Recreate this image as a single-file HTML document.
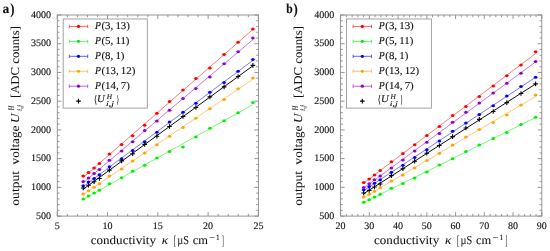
<!DOCTYPE html>
<html><head><meta charset="utf-8"><title>Output voltage vs conductivity</title>
<style>
html,body{margin:0;padding:0;background:#fff;}
body{width:550px;height:251px;overflow:hidden;}
svg{display:block;}
text{font-family:"Liberation Serif", "DejaVu Serif", serif;fill:#111;stroke:#111;stroke-width:0.12px;text-rendering:geometricPrecision;}
.tl{font-size:10px;}
.al{stroke-width:0.05px;}
</style></head>
<body>
<svg width="550" height="251" viewBox="0 0 550 251">
<rect width="550" height="251" fill="#fff"/>
<rect x="57.3" y="15" width="201.1" height="201.1" fill="none" stroke="#8a8a8a" stroke-width="0.9"/>
<text x="57.3" y="228.6" text-anchor="middle" class="tl">5</text>
<text x="107.57" y="228.6" text-anchor="middle" class="tl">10</text>
<text x="157.85" y="228.6" text-anchor="middle" class="tl">15</text>
<text x="208.12" y="228.6" text-anchor="middle" class="tl">20</text>
<text x="258.4" y="228.6" text-anchor="middle" class="tl">25</text>
<text x="51" y="218.8" text-anchor="end" class="tl">500</text>
<text x="51" y="190.07" text-anchor="end" class="tl">1000</text>
<text x="51" y="161.34" text-anchor="end" class="tl">1500</text>
<text x="51" y="132.61" text-anchor="end" class="tl">2000</text>
<text x="51" y="103.89" text-anchor="end" class="tl">2500</text>
<text x="51" y="75.16" text-anchor="end" class="tl">3000</text>
<text x="51" y="46.43" text-anchor="end" class="tl">3500</text>
<text x="51" y="17.7" text-anchor="end" class="tl">4000</text>
<path d="M57.3 216.1v-4.0M57.3 15v4.0M67.35 216.1v-2.2M67.35 15v2.2M77.41 216.1v-2.2M77.41 15v2.2M87.47 216.1v-2.2M87.47 15v2.2M97.52 216.1v-2.2M97.52 15v2.2M107.57 216.1v-4.0M107.57 15v4.0M117.63 216.1v-2.2M117.63 15v2.2M127.68 216.1v-2.2M127.68 15v2.2M137.74 216.1v-2.2M137.74 15v2.2M147.79 216.1v-2.2M147.79 15v2.2M157.85 216.1v-4.0M157.85 15v4.0M167.9 216.1v-2.2M167.9 15v2.2M177.96 216.1v-2.2M177.96 15v2.2M188.01 216.1v-2.2M188.01 15v2.2M198.07 216.1v-2.2M198.07 15v2.2M208.12 216.1v-4.0M208.12 15v4.0M218.18 216.1v-2.2M218.18 15v2.2M228.23 216.1v-2.2M228.23 15v2.2M238.29 216.1v-2.2M238.29 15v2.2M248.34 216.1v-2.2M248.34 15v2.2M258.4 216.1v-4.0M258.4 15v4.0M57.3 216.1h4.0M258.4 216.1h-4.0M57.3 210.35h2.2M258.4 210.35h-2.2M57.3 204.61h2.2M258.4 204.61h-2.2M57.3 198.86h2.2M258.4 198.86h-2.2M57.3 193.12h2.2M258.4 193.12h-2.2M57.3 187.37h4.0M258.4 187.37h-4.0M57.3 181.63h2.2M258.4 181.63h-2.2M57.3 175.88h2.2M258.4 175.88h-2.2M57.3 170.13h2.2M258.4 170.13h-2.2M57.3 164.39h2.2M258.4 164.39h-2.2M57.3 158.64h4.0M258.4 158.64h-4.0M57.3 152.9h2.2M258.4 152.9h-2.2M57.3 147.15h2.2M258.4 147.15h-2.2M57.3 141.41h2.2M258.4 141.41h-2.2M57.3 135.66h2.2M258.4 135.66h-2.2M57.3 129.91h4.0M258.4 129.91h-4.0M57.3 124.17h2.2M258.4 124.17h-2.2M57.3 118.42h2.2M258.4 118.42h-2.2M57.3 112.68h2.2M258.4 112.68h-2.2M57.3 106.93h2.2M258.4 106.93h-2.2M57.3 101.19h4.0M258.4 101.19h-4.0M57.3 95.44h2.2M258.4 95.44h-2.2M57.3 89.69h2.2M258.4 89.69h-2.2M57.3 83.95h2.2M258.4 83.95h-2.2M57.3 78.2h2.2M258.4 78.2h-2.2M57.3 72.46h4.0M258.4 72.46h-4.0M57.3 66.71h2.2M258.4 66.71h-2.2M57.3 60.97h2.2M258.4 60.97h-2.2M57.3 55.22h2.2M258.4 55.22h-2.2M57.3 49.47h2.2M258.4 49.47h-2.2M57.3 43.73h4.0M258.4 43.73h-4.0M57.3 37.98h2.2M258.4 37.98h-2.2M57.3 32.24h2.2M258.4 32.24h-2.2M57.3 26.49h2.2M258.4 26.49h-2.2M57.3 20.75h2.2M258.4 20.75h-2.2M57.3 15h4.0M258.4 15h-4.0" stroke="#8a8a8a" stroke-width="0.9" fill="none"/>
<path d="M83.2 199.29L252.9 104.6" stroke="#20ee20" stroke-width="0.6" fill="none"/>
<path d="M80.2 199.1h6M85.5 196.1h6M91.1 193.1h6M96.4 190.2h6M106.4 183.7h6M118.6 177.7h6M129.7 171.3h6M141.7 165.3h6M153.9 158h6M166.5 151.5h6M180 147h6M192.9 136.9h6M206.9 128.3h6M221.1 120.8h6M235.1 112.7h6M249.9 102.6h6" stroke="#20ee20" stroke-width="0.5" stroke-opacity="0.35" fill="none"/>
<ellipse cx="83.2" cy="199.1" rx="1.75" ry="1.5" fill="#00f000"/>
<ellipse cx="88.5" cy="196.1" rx="1.75" ry="1.5" fill="#00f000"/>
<ellipse cx="94.1" cy="193.1" rx="1.75" ry="1.5" fill="#00f000"/>
<ellipse cx="99.4" cy="190.2" rx="1.75" ry="1.5" fill="#00f000"/>
<ellipse cx="109.4" cy="183.7" rx="1.75" ry="1.5" fill="#00f000"/>
<ellipse cx="121.6" cy="177.7" rx="1.75" ry="1.5" fill="#00f000"/>
<ellipse cx="132.7" cy="171.3" rx="1.75" ry="1.5" fill="#00f000"/>
<ellipse cx="144.7" cy="165.3" rx="1.75" ry="1.5" fill="#00f000"/>
<ellipse cx="156.9" cy="158" rx="1.75" ry="1.5" fill="#00f000"/>
<ellipse cx="169.5" cy="151.5" rx="1.75" ry="1.5" fill="#00f000"/>
<ellipse cx="183" cy="147" rx="1.75" ry="1.5" fill="#00f000"/>
<ellipse cx="195.9" cy="136.9" rx="1.75" ry="1.5" fill="#00f000"/>
<ellipse cx="209.9" cy="128.3" rx="1.75" ry="1.5" fill="#00f000"/>
<ellipse cx="224.1" cy="120.8" rx="1.75" ry="1.5" fill="#00f000"/>
<ellipse cx="238.1" cy="112.7" rx="1.75" ry="1.5" fill="#00f000"/>
<ellipse cx="252.9" cy="102.6" rx="1.75" ry="1.5" fill="#00f000"/>
<path d="M83.2 194.61L252.9 79.23" stroke="#ffa520" stroke-width="0.6" fill="none"/>
<path d="M80.2 193.9h6M85.5 190.7h6M91.1 187.2h6M96.4 183.8h6M106.4 176h6M118.6 169.1h6M129.7 161.1h6M141.7 153h6M153.9 144.7h6M166.5 136.3h6M180 127.5h6M192.9 118.2h6M206.9 108.7h6M221.1 99.4h6M235.1 88.7h6M249.9 78.1h6" stroke="#ffa520" stroke-width="0.5" stroke-opacity="0.35" fill="none"/>
<ellipse cx="83.2" cy="193.9" rx="1.75" ry="1.5" fill="#ffa500"/>
<ellipse cx="88.5" cy="190.7" rx="1.75" ry="1.5" fill="#ffa500"/>
<ellipse cx="94.1" cy="187.2" rx="1.75" ry="1.5" fill="#ffa500"/>
<ellipse cx="99.4" cy="183.8" rx="1.75" ry="1.5" fill="#ffa500"/>
<ellipse cx="109.4" cy="176" rx="1.75" ry="1.5" fill="#ffa500"/>
<ellipse cx="121.6" cy="169.1" rx="1.75" ry="1.5" fill="#ffa500"/>
<ellipse cx="132.7" cy="161.1" rx="1.75" ry="1.5" fill="#ffa500"/>
<ellipse cx="144.7" cy="153" rx="1.75" ry="1.5" fill="#ffa500"/>
<ellipse cx="156.9" cy="144.7" rx="1.75" ry="1.5" fill="#ffa500"/>
<ellipse cx="169.5" cy="136.3" rx="1.75" ry="1.5" fill="#ffa500"/>
<ellipse cx="183" cy="127.5" rx="1.75" ry="1.5" fill="#ffa500"/>
<ellipse cx="195.9" cy="118.2" rx="1.75" ry="1.5" fill="#ffa500"/>
<ellipse cx="209.9" cy="108.7" rx="1.75" ry="1.5" fill="#ffa500"/>
<ellipse cx="224.1" cy="99.4" rx="1.75" ry="1.5" fill="#ffa500"/>
<ellipse cx="238.1" cy="88.7" rx="1.75" ry="1.5" fill="#ffa500"/>
<ellipse cx="252.9" cy="78.1" rx="1.75" ry="1.5" fill="#ffa500"/>
<path d="M83.2 186.62L252.9 60.38" stroke="#2020ff" stroke-width="0.6" fill="none"/>
<path d="M80.2 185.8h6M85.5 182h6M91.1 178.6h6M96.4 174.7h6M106.4 166.7h6M118.6 158.8h6M129.7 150.4h6M141.7 141.7h6M153.9 132.2h6M166.5 122h6M180 112.2h6M192.9 103.2h6M206.9 92.2h6M221.1 82.4h6M235.1 71.3h6M249.9 59.4h6" stroke="#2020ff" stroke-width="0.5" stroke-opacity="0.35" fill="none"/>
<ellipse cx="83.2" cy="185.8" rx="1.75" ry="1.5" fill="#0000ff"/>
<ellipse cx="88.5" cy="182" rx="1.75" ry="1.5" fill="#0000ff"/>
<ellipse cx="94.1" cy="178.6" rx="1.75" ry="1.5" fill="#0000ff"/>
<ellipse cx="99.4" cy="174.7" rx="1.75" ry="1.5" fill="#0000ff"/>
<ellipse cx="109.4" cy="166.7" rx="1.75" ry="1.5" fill="#0000ff"/>
<ellipse cx="121.6" cy="158.8" rx="1.75" ry="1.5" fill="#0000ff"/>
<ellipse cx="132.7" cy="150.4" rx="1.75" ry="1.5" fill="#0000ff"/>
<ellipse cx="144.7" cy="141.7" rx="1.75" ry="1.5" fill="#0000ff"/>
<ellipse cx="156.9" cy="132.2" rx="1.75" ry="1.5" fill="#0000ff"/>
<ellipse cx="169.5" cy="122" rx="1.75" ry="1.5" fill="#0000ff"/>
<ellipse cx="183" cy="112.2" rx="1.75" ry="1.5" fill="#0000ff"/>
<ellipse cx="195.9" cy="103.2" rx="1.75" ry="1.5" fill="#0000ff"/>
<ellipse cx="209.9" cy="92.2" rx="1.75" ry="1.5" fill="#0000ff"/>
<ellipse cx="224.1" cy="82.4" rx="1.75" ry="1.5" fill="#0000ff"/>
<ellipse cx="238.1" cy="71.3" rx="1.75" ry="1.5" fill="#0000ff"/>
<ellipse cx="252.9" cy="59.4" rx="1.75" ry="1.5" fill="#0000ff"/>
<path d="M83.2 182.76L252.9 39.6" stroke="#9a20e0" stroke-width="0.6" fill="none"/>
<path d="M80.2 181.6h6M85.5 177.9h6M91.1 173.4h6M96.4 169.5h6M106.4 160.3h6M118.6 151h6M129.7 141.7h6M141.7 130.6h6M153.9 120.9h6M166.5 110.2h6M180 98.6h6M192.9 88.5h6M206.9 77.1h6M221.1 63.7h6M235.1 51.8h6M249.9 38.1h6" stroke="#9a20e0" stroke-width="0.5" stroke-opacity="0.35" fill="none"/>
<ellipse cx="83.2" cy="181.6" rx="1.75" ry="1.5" fill="#8a00d4"/>
<ellipse cx="88.5" cy="177.9" rx="1.75" ry="1.5" fill="#8a00d4"/>
<ellipse cx="94.1" cy="173.4" rx="1.75" ry="1.5" fill="#8a00d4"/>
<ellipse cx="99.4" cy="169.5" rx="1.75" ry="1.5" fill="#8a00d4"/>
<ellipse cx="109.4" cy="160.3" rx="1.75" ry="1.5" fill="#8a00d4"/>
<ellipse cx="121.6" cy="151" rx="1.75" ry="1.5" fill="#8a00d4"/>
<ellipse cx="132.7" cy="141.7" rx="1.75" ry="1.5" fill="#8a00d4"/>
<ellipse cx="144.7" cy="130.6" rx="1.75" ry="1.5" fill="#8a00d4"/>
<ellipse cx="156.9" cy="120.9" rx="1.75" ry="1.5" fill="#8a00d4"/>
<ellipse cx="169.5" cy="110.2" rx="1.75" ry="1.5" fill="#8a00d4"/>
<ellipse cx="183" cy="98.6" rx="1.75" ry="1.5" fill="#8a00d4"/>
<ellipse cx="195.9" cy="88.5" rx="1.75" ry="1.5" fill="#8a00d4"/>
<ellipse cx="209.9" cy="77.1" rx="1.75" ry="1.5" fill="#8a00d4"/>
<ellipse cx="224.1" cy="63.7" rx="1.75" ry="1.5" fill="#8a00d4"/>
<ellipse cx="238.1" cy="51.8" rx="1.75" ry="1.5" fill="#8a00d4"/>
<ellipse cx="252.9" cy="38.1" rx="1.75" ry="1.5" fill="#8a00d4"/>
<path d="M83.2 177.41L252.9 29.48" stroke="#ff2020" stroke-width="0.6" fill="none"/>
<path d="M80.2 176.1h6M85.5 172.5h6M91.1 168h6M96.4 163.5h6M106.4 154h6M118.6 144.4h6M129.7 135.7h6M141.7 125.2h6M153.9 113.3h6M166.5 101.4h6M180 90h6M192.9 78.5h6M206.9 68h6M221.1 54.5h6M235.1 42.2h6M249.9 29h6" stroke="#ff2020" stroke-width="0.5" stroke-opacity="0.35" fill="none"/>
<ellipse cx="83.2" cy="176.1" rx="1.75" ry="1.5" fill="#ff0000"/>
<ellipse cx="88.5" cy="172.5" rx="1.75" ry="1.5" fill="#ff0000"/>
<ellipse cx="94.1" cy="168" rx="1.75" ry="1.5" fill="#ff0000"/>
<ellipse cx="99.4" cy="163.5" rx="1.75" ry="1.5" fill="#ff0000"/>
<ellipse cx="109.4" cy="154" rx="1.75" ry="1.5" fill="#ff0000"/>
<ellipse cx="121.6" cy="144.4" rx="1.75" ry="1.5" fill="#ff0000"/>
<ellipse cx="132.7" cy="135.7" rx="1.75" ry="1.5" fill="#ff0000"/>
<ellipse cx="144.7" cy="125.2" rx="1.75" ry="1.5" fill="#ff0000"/>
<ellipse cx="156.9" cy="113.3" rx="1.75" ry="1.5" fill="#ff0000"/>
<ellipse cx="169.5" cy="101.4" rx="1.75" ry="1.5" fill="#ff0000"/>
<ellipse cx="183" cy="90" rx="1.75" ry="1.5" fill="#ff0000"/>
<ellipse cx="195.9" cy="78.5" rx="1.75" ry="1.5" fill="#ff0000"/>
<ellipse cx="209.9" cy="68" rx="1.75" ry="1.5" fill="#ff0000"/>
<ellipse cx="224.1" cy="54.5" rx="1.75" ry="1.5" fill="#ff0000"/>
<ellipse cx="238.1" cy="42.2" rx="1.75" ry="1.5" fill="#ff0000"/>
<ellipse cx="252.9" cy="29" rx="1.75" ry="1.5" fill="#ff0000"/>
<path d="M83.2 189.28L252.9 65.79" stroke="#000000" stroke-width="0.95" fill="none"/>
<path d="M80.9 188h4.6M83.2 185.7v4.6M86.2 185.2h4.6M88.5 182.9v4.6M91.8 181.7h4.6M94.1 179.4v4.6M97.1 178.5h4.6M99.4 176.2v4.6M107.1 170.1h4.6M109.4 167.8v4.6M119.3 160.9h4.6M121.6 158.6v4.6M130.4 153.8h4.6M132.7 151.5v4.6M142.4 144.4h4.6M144.7 142.1v4.6M154.6 136.3h4.6M156.9 134v4.6M167.2 126.5h4.6M169.5 124.2v4.6M180.7 116.5h4.6M183 114.2v4.6M193.6 107.5h4.6M195.9 105.2v4.6M207.6 96.9h4.6M209.9 94.6v4.6M221.8 86.9h4.6M224.1 84.6v4.6M235.8 76.5h4.6M238.1 74.2v4.6M250.6 65.4h4.6M252.9 63.1v4.6" stroke="#000" stroke-width="1.1" fill="none"/>
<rect x="63.2" y="19" width="84.1" height="89.1" fill="#fff" stroke="#999" stroke-width="0.9"/>
<path d="M69.3 26.4h18.4M69.3 24.7v3.4M87.7 24.7v3.4" stroke="#ff2020" stroke-width="0.7" fill="none"/>
<circle cx="78.5" cy="26.4" r="1.6" fill="#ff0000"/>
<text transform="translate(94.9 29.1) scale(0.928 1)" style="font-size:10.5px;font-style:italic;">P</text>
<text transform="translate(101.48 29.1) scale(1.034 1)" style="font-size:10.5px;">(3, 13)</text>
<path d="M69.3 41.35h18.4M69.3 39.65v3.4M87.7 39.65v3.4" stroke="#20ee20" stroke-width="0.7" fill="none"/>
<circle cx="78.5" cy="41.35" r="1.6" fill="#00f000"/>
<text transform="translate(94.9 44.05) scale(0.928 1)" style="font-size:10.5px;font-style:italic;">P</text>
<text transform="translate(101.48 44.05) scale(1.034 1)" style="font-size:10.5px;">(5, 11)</text>
<path d="M69.3 56.3h18.4M69.3 54.6v3.4M87.7 54.6v3.4" stroke="#2020ff" stroke-width="0.7" fill="none"/>
<circle cx="78.5" cy="56.3" r="1.6" fill="#0000ff"/>
<text transform="translate(94.9 59) scale(0.928 1)" style="font-size:10.5px;font-style:italic;">P</text>
<text transform="translate(101.48 59) scale(1.034 1)" style="font-size:10.5px;">(8, 1)</text>
<path d="M69.3 71.25h18.4M69.3 69.55v3.4M87.7 69.55v3.4" stroke="#ffa520" stroke-width="0.7" fill="none"/>
<circle cx="78.5" cy="71.25" r="1.6" fill="#ffa500"/>
<text transform="translate(94.9 73.95) scale(0.928 1)" style="font-size:10.5px;font-style:italic;">P</text>
<text transform="translate(101.48 73.95) scale(1.034 1)" style="font-size:10.5px;">(13, 12)</text>
<path d="M69.3 86.2h18.4M69.3 84.5v3.4M87.7 84.5v3.4" stroke="#9a20e0" stroke-width="0.7" fill="none"/>
<circle cx="78.5" cy="86.2" r="1.6" fill="#8a00d4"/>
<text transform="translate(94.9 88.9) scale(0.928 1)" style="font-size:10.5px;font-style:italic;">P</text>
<text transform="translate(101.48 88.9) scale(1.034 1)" style="font-size:10.5px;">(14, 7)</text>
<path d="M76.2 101.15h4.6M78.5 98.85v4.6" stroke="#000" stroke-width="1.1" fill="none"/>
<text transform="translate(94.04 102.6) scale(0.756 1)" style="font-size:10.5px;">⟨</text>
<text transform="translate(97.08 102.4) scale(1.021 1)" style="font-size:10.5px;font-style:italic;">U</text>
<text transform="translate(106.7 98.9) scale(1.018 1)" style="font-size:7.2px;font-style:italic;">H</text>
<text transform="translate(105.96 105.6) scale(1.364 1)" style="font-size:7.2px;font-style:italic;">i,j</text>
<text transform="translate(116.71 102.6) scale(0.52 1)" style="font-size:10.5px;">⟩</text>
<text class="al" transform="translate(90.76 244.3) scale(1.087 1)" style="font-size:12px;">conductivity</text>
<text class="al" transform="translate(161.65 244.3) scale(1.091 1)" style="font-size:12px;font-style:italic;">κ</text>
<text class="al" transform="translate(173.7 245.2) scale(0.5 1)" style="font-size:13.5px;">[</text>
<text class="al" transform="translate(177.29 244.3) scale(0.855 1)" style="font-size:12px;">µS</text>
<text class="al" transform="translate(192.78 244.3) scale(1.036 1)" style="font-size:12px;">cm</text>
<text class="al" transform="translate(209.29 240.2) scale(1.25 1)" style="font-size:8px;">−</text>
<text class="al" transform="translate(215.84 239.8) scale(1.018 1)" style="font-size:8px;">1</text>
<text class="al" transform="translate(222.1 245.2) scale(0.4 1)" style="font-size:13.5px;">]</text>
<text class="al" transform="translate(19 205.67) rotate(-90) scale(1.131 1)" style="font-size:12px;">output</text>
<text class="al" transform="translate(19 164.4) rotate(-90) scale(1.097 1)" style="font-size:12px;">voltage</text>
<text class="al" transform="translate(19 123.09) rotate(-90) scale(1.091 1)" style="font-size:12px;font-style:italic;">U</text>
<text class="al" transform="translate(14.4 110.32) rotate(-90) scale(0.726 1)" style="font-size:8.5px;font-style:italic;">H</text>
<text class="al" transform="translate(21.6 110.95) rotate(-90) scale(0.991 1)" style="font-size:7.5px;font-style:italic;">i,j</text>
<text class="al" transform="translate(19 98.1) rotate(-90) scale(1.064 1)" style="font-size:12px;">[ADC counts]</text>
<text transform="translate(2.4 12.6) scale(1 1)" style="font-size:13.5px;font-weight:bold;">a</text>
<text transform="translate(10.29 13.7) scale(0.825 1)" style="font-size:15.5px;font-weight:bold;">)</text>
<rect x="340.6" y="15" width="201.2" height="201.1" fill="none" stroke="#8a8a8a" stroke-width="0.9"/>
<text x="340.6" y="228.6" text-anchor="middle" class="tl">20</text>
<text x="369.34" y="228.6" text-anchor="middle" class="tl">30</text>
<text x="398.09" y="228.6" text-anchor="middle" class="tl">40</text>
<text x="426.83" y="228.6" text-anchor="middle" class="tl">50</text>
<text x="455.57" y="228.6" text-anchor="middle" class="tl">60</text>
<text x="484.31" y="228.6" text-anchor="middle" class="tl">70</text>
<text x="513.06" y="228.6" text-anchor="middle" class="tl">80</text>
<text x="541.8" y="228.6" text-anchor="middle" class="tl">90</text>
<text x="334.3" y="218.8" text-anchor="end" class="tl">500</text>
<text x="334.3" y="190.07" text-anchor="end" class="tl">1000</text>
<text x="334.3" y="161.34" text-anchor="end" class="tl">1500</text>
<text x="334.3" y="132.61" text-anchor="end" class="tl">2000</text>
<text x="334.3" y="103.89" text-anchor="end" class="tl">2500</text>
<text x="334.3" y="75.16" text-anchor="end" class="tl">3000</text>
<text x="334.3" y="46.43" text-anchor="end" class="tl">3500</text>
<text x="334.3" y="17.7" text-anchor="end" class="tl">4000</text>
<path d="M340.6 216.1v-4.0M340.6 15v4.0M346.35 216.1v-2.2M346.35 15v2.2M352.1 216.1v-2.2M352.1 15v2.2M357.85 216.1v-2.2M357.85 15v2.2M363.59 216.1v-2.2M363.59 15v2.2M369.34 216.1v-4.0M369.34 15v4.0M375.09 216.1v-2.2M375.09 15v2.2M380.84 216.1v-2.2M380.84 15v2.2M386.59 216.1v-2.2M386.59 15v2.2M392.34 216.1v-2.2M392.34 15v2.2M398.09 216.1v-4.0M398.09 15v4.0M403.83 216.1v-2.2M403.83 15v2.2M409.58 216.1v-2.2M409.58 15v2.2M415.33 216.1v-2.2M415.33 15v2.2M421.08 216.1v-2.2M421.08 15v2.2M426.83 216.1v-4.0M426.83 15v4.0M432.58 216.1v-2.2M432.58 15v2.2M438.33 216.1v-2.2M438.33 15v2.2M444.07 216.1v-2.2M444.07 15v2.2M449.82 216.1v-2.2M449.82 15v2.2M455.57 216.1v-4.0M455.57 15v4.0M461.32 216.1v-2.2M461.32 15v2.2M467.07 216.1v-2.2M467.07 15v2.2M472.82 216.1v-2.2M472.82 15v2.2M478.57 216.1v-2.2M478.57 15v2.2M484.31 216.1v-4.0M484.31 15v4.0M490.06 216.1v-2.2M490.06 15v2.2M495.81 216.1v-2.2M495.81 15v2.2M501.56 216.1v-2.2M501.56 15v2.2M507.31 216.1v-2.2M507.31 15v2.2M513.06 216.1v-4.0M513.06 15v4.0M518.81 216.1v-2.2M518.81 15v2.2M524.55 216.1v-2.2M524.55 15v2.2M530.3 216.1v-2.2M530.3 15v2.2M536.05 216.1v-2.2M536.05 15v2.2M541.8 216.1v-4.0M541.8 15v4.0M340.6 216.1h4.0M541.8 216.1h-4.0M340.6 210.35h2.2M541.8 210.35h-2.2M340.6 204.61h2.2M541.8 204.61h-2.2M340.6 198.86h2.2M541.8 198.86h-2.2M340.6 193.12h2.2M541.8 193.12h-2.2M340.6 187.37h4.0M541.8 187.37h-4.0M340.6 181.63h2.2M541.8 181.63h-2.2M340.6 175.88h2.2M541.8 175.88h-2.2M340.6 170.13h2.2M541.8 170.13h-2.2M340.6 164.39h2.2M541.8 164.39h-2.2M340.6 158.64h4.0M541.8 158.64h-4.0M340.6 152.9h2.2M541.8 152.9h-2.2M340.6 147.15h2.2M541.8 147.15h-2.2M340.6 141.41h2.2M541.8 141.41h-2.2M340.6 135.66h2.2M541.8 135.66h-2.2M340.6 129.91h4.0M541.8 129.91h-4.0M340.6 124.17h2.2M541.8 124.17h-2.2M340.6 118.42h2.2M541.8 118.42h-2.2M340.6 112.68h2.2M541.8 112.68h-2.2M340.6 106.93h2.2M541.8 106.93h-2.2M340.6 101.19h4.0M541.8 101.19h-4.0M340.6 95.44h2.2M541.8 95.44h-2.2M340.6 89.69h2.2M541.8 89.69h-2.2M340.6 83.95h2.2M541.8 83.95h-2.2M340.6 78.2h2.2M541.8 78.2h-2.2M340.6 72.46h4.0M541.8 72.46h-4.0M340.6 66.71h2.2M541.8 66.71h-2.2M340.6 60.97h2.2M541.8 60.97h-2.2M340.6 55.22h2.2M541.8 55.22h-2.2M340.6 49.47h2.2M541.8 49.47h-2.2M340.6 43.73h4.0M541.8 43.73h-4.0M340.6 37.98h2.2M541.8 37.98h-2.2M340.6 32.24h2.2M541.8 32.24h-2.2M340.6 26.49h2.2M541.8 26.49h-2.2M340.6 20.75h2.2M541.8 20.75h-2.2M340.6 15h4.0M541.8 15h-4.0" stroke="#8a8a8a" stroke-width="0.9" fill="none"/>
<path d="M363.7 202.53L535.6 117.55" stroke="#20ee20" stroke-width="0.6" fill="none"/>
<path d="M360.7 202.3h6M366.2 199.7h6M371.5 197.1h6M377.2 194.3h6M388.4 188.2h6M399.9 183.5h6M411.7 178h6M423.8 172h6M436.4 165.1h6M449.6 158.7h6M462.9 151.5h6M476.3 145.1h6M490.2 138.4h6M503.8 132.5h6M518 124.5h6M532.6 117.3h6" stroke="#20ee20" stroke-width="0.5" stroke-opacity="0.35" fill="none"/>
<ellipse cx="363.7" cy="202.3" rx="1.75" ry="1.5" fill="#00f000"/>
<ellipse cx="369.2" cy="199.7" rx="1.75" ry="1.5" fill="#00f000"/>
<ellipse cx="374.5" cy="197.1" rx="1.75" ry="1.5" fill="#00f000"/>
<ellipse cx="380.2" cy="194.3" rx="1.75" ry="1.5" fill="#00f000"/>
<ellipse cx="391.4" cy="188.2" rx="1.75" ry="1.5" fill="#00f000"/>
<ellipse cx="402.9" cy="183.5" rx="1.75" ry="1.5" fill="#00f000"/>
<ellipse cx="414.7" cy="178" rx="1.75" ry="1.5" fill="#00f000"/>
<ellipse cx="426.8" cy="172" rx="1.75" ry="1.5" fill="#00f000"/>
<ellipse cx="439.4" cy="165.1" rx="1.75" ry="1.5" fill="#00f000"/>
<ellipse cx="452.6" cy="158.7" rx="1.75" ry="1.5" fill="#00f000"/>
<ellipse cx="465.9" cy="151.5" rx="1.75" ry="1.5" fill="#00f000"/>
<ellipse cx="479.3" cy="145.1" rx="1.75" ry="1.5" fill="#00f000"/>
<ellipse cx="493.2" cy="138.4" rx="1.75" ry="1.5" fill="#00f000"/>
<ellipse cx="506.8" cy="132.5" rx="1.75" ry="1.5" fill="#00f000"/>
<ellipse cx="521" cy="124.5" rx="1.75" ry="1.5" fill="#00f000"/>
<ellipse cx="535.6" cy="117.3" rx="1.75" ry="1.5" fill="#00f000"/>
<path d="M363.7 197.59L535.6 96.51" stroke="#ffa520" stroke-width="0.6" fill="none"/>
<path d="M360.7 197.1h6M366.2 194.3h6M371.5 191.2h6M377.2 187.8h6M388.4 181h6M399.9 175.1h6M411.7 168.1h6M423.8 160.4h6M436.4 153.2h6M449.6 145.1h6M462.9 137h6M476.3 129.5h6M490.2 122.4h6M503.8 114.9h6M518 104.9h6M532.6 95h6" stroke="#ffa520" stroke-width="0.5" stroke-opacity="0.35" fill="none"/>
<ellipse cx="363.7" cy="197.1" rx="1.75" ry="1.5" fill="#ffa500"/>
<ellipse cx="369.2" cy="194.3" rx="1.75" ry="1.5" fill="#ffa500"/>
<ellipse cx="374.5" cy="191.2" rx="1.75" ry="1.5" fill="#ffa500"/>
<ellipse cx="380.2" cy="187.8" rx="1.75" ry="1.5" fill="#ffa500"/>
<ellipse cx="391.4" cy="181" rx="1.75" ry="1.5" fill="#ffa500"/>
<ellipse cx="402.9" cy="175.1" rx="1.75" ry="1.5" fill="#ffa500"/>
<ellipse cx="414.7" cy="168.1" rx="1.75" ry="1.5" fill="#ffa500"/>
<ellipse cx="426.8" cy="160.4" rx="1.75" ry="1.5" fill="#ffa500"/>
<ellipse cx="439.4" cy="153.2" rx="1.75" ry="1.5" fill="#ffa500"/>
<ellipse cx="452.6" cy="145.1" rx="1.75" ry="1.5" fill="#ffa500"/>
<ellipse cx="465.9" cy="137" rx="1.75" ry="1.5" fill="#ffa500"/>
<ellipse cx="479.3" cy="129.5" rx="1.75" ry="1.5" fill="#ffa500"/>
<ellipse cx="493.2" cy="122.4" rx="1.75" ry="1.5" fill="#ffa500"/>
<ellipse cx="506.8" cy="114.9" rx="1.75" ry="1.5" fill="#ffa500"/>
<ellipse cx="521" cy="104.9" rx="1.75" ry="1.5" fill="#ffa500"/>
<ellipse cx="535.6" cy="95" rx="1.75" ry="1.5" fill="#ffa500"/>
<path d="M363.7 190.54L535.6 77.29" stroke="#2020ff" stroke-width="0.6" fill="none"/>
<path d="M360.7 189.8h6M366.2 186.6h6M371.5 183.2h6M377.2 179.8h6M388.4 172.3h6M399.9 165.2h6M411.7 157.5h6M423.8 149.8h6M436.4 141h6M449.6 131.3h6M462.9 123h6M476.3 114.4h6M490.2 105.8h6M503.8 96.1h6M518 86.4h6M532.6 77.2h6" stroke="#2020ff" stroke-width="0.5" stroke-opacity="0.35" fill="none"/>
<ellipse cx="363.7" cy="189.8" rx="1.75" ry="1.5" fill="#0000ff"/>
<ellipse cx="369.2" cy="186.6" rx="1.75" ry="1.5" fill="#0000ff"/>
<ellipse cx="374.5" cy="183.2" rx="1.75" ry="1.5" fill="#0000ff"/>
<ellipse cx="380.2" cy="179.8" rx="1.75" ry="1.5" fill="#0000ff"/>
<ellipse cx="391.4" cy="172.3" rx="1.75" ry="1.5" fill="#0000ff"/>
<ellipse cx="402.9" cy="165.2" rx="1.75" ry="1.5" fill="#0000ff"/>
<ellipse cx="414.7" cy="157.5" rx="1.75" ry="1.5" fill="#0000ff"/>
<ellipse cx="426.8" cy="149.8" rx="1.75" ry="1.5" fill="#0000ff"/>
<ellipse cx="439.4" cy="141" rx="1.75" ry="1.5" fill="#0000ff"/>
<ellipse cx="452.6" cy="131.3" rx="1.75" ry="1.5" fill="#0000ff"/>
<ellipse cx="465.9" cy="123" rx="1.75" ry="1.5" fill="#0000ff"/>
<ellipse cx="479.3" cy="114.4" rx="1.75" ry="1.5" fill="#0000ff"/>
<ellipse cx="493.2" cy="105.8" rx="1.75" ry="1.5" fill="#0000ff"/>
<ellipse cx="506.8" cy="96.1" rx="1.75" ry="1.5" fill="#0000ff"/>
<ellipse cx="521" cy="86.4" rx="1.75" ry="1.5" fill="#0000ff"/>
<ellipse cx="535.6" cy="77.2" rx="1.75" ry="1.5" fill="#0000ff"/>
<path d="M363.7 188.03L535.6 61.96" stroke="#9a20e0" stroke-width="0.6" fill="none"/>
<path d="M360.7 187.4h6M366.2 183.7h6M371.5 179.8h6M377.2 176h6M388.4 167.9h6M399.9 160.1h6M411.7 150.9h6M423.8 142.2h6M436.4 133.4h6M449.6 122.3h6M462.9 112.3h6M476.3 103h6M490.2 92.9h6M503.8 83.3h6M518 73.3h6M532.6 61.4h6" stroke="#9a20e0" stroke-width="0.5" stroke-opacity="0.35" fill="none"/>
<ellipse cx="363.7" cy="187.4" rx="1.75" ry="1.5" fill="#8a00d4"/>
<ellipse cx="369.2" cy="183.7" rx="1.75" ry="1.5" fill="#8a00d4"/>
<ellipse cx="374.5" cy="179.8" rx="1.75" ry="1.5" fill="#8a00d4"/>
<ellipse cx="380.2" cy="176" rx="1.75" ry="1.5" fill="#8a00d4"/>
<ellipse cx="391.4" cy="167.9" rx="1.75" ry="1.5" fill="#8a00d4"/>
<ellipse cx="402.9" cy="160.1" rx="1.75" ry="1.5" fill="#8a00d4"/>
<ellipse cx="414.7" cy="150.9" rx="1.75" ry="1.5" fill="#8a00d4"/>
<ellipse cx="426.8" cy="142.2" rx="1.75" ry="1.5" fill="#8a00d4"/>
<ellipse cx="439.4" cy="133.4" rx="1.75" ry="1.5" fill="#8a00d4"/>
<ellipse cx="452.6" cy="122.3" rx="1.75" ry="1.5" fill="#8a00d4"/>
<ellipse cx="465.9" cy="112.3" rx="1.75" ry="1.5" fill="#8a00d4"/>
<ellipse cx="479.3" cy="103" rx="1.75" ry="1.5" fill="#8a00d4"/>
<ellipse cx="493.2" cy="92.9" rx="1.75" ry="1.5" fill="#8a00d4"/>
<ellipse cx="506.8" cy="83.3" rx="1.75" ry="1.5" fill="#8a00d4"/>
<ellipse cx="521" cy="73.3" rx="1.75" ry="1.5" fill="#8a00d4"/>
<ellipse cx="535.6" cy="61.4" rx="1.75" ry="1.5" fill="#8a00d4"/>
<path d="M363.7 183.01L535.6 53.56" stroke="#ff2020" stroke-width="0.6" fill="none"/>
<path d="M360.7 182.5h6M366.2 178.9h6M371.5 174.9h6M377.2 170.5h6M388.4 161.8h6M399.9 153.6h6M411.7 144.8h6M423.8 135.6h6M436.4 126.4h6M449.6 115.5h6M462.9 106.5h6M476.3 96.4h6M490.2 86.1h6M503.8 75.7h6M518 65h6M532.6 51.8h6" stroke="#ff2020" stroke-width="0.5" stroke-opacity="0.35" fill="none"/>
<ellipse cx="363.7" cy="182.5" rx="1.75" ry="1.5" fill="#ff0000"/>
<ellipse cx="369.2" cy="178.9" rx="1.75" ry="1.5" fill="#ff0000"/>
<ellipse cx="374.5" cy="174.9" rx="1.75" ry="1.5" fill="#ff0000"/>
<ellipse cx="380.2" cy="170.5" rx="1.75" ry="1.5" fill="#ff0000"/>
<ellipse cx="391.4" cy="161.8" rx="1.75" ry="1.5" fill="#ff0000"/>
<ellipse cx="402.9" cy="153.6" rx="1.75" ry="1.5" fill="#ff0000"/>
<ellipse cx="414.7" cy="144.8" rx="1.75" ry="1.5" fill="#ff0000"/>
<ellipse cx="426.8" cy="135.6" rx="1.75" ry="1.5" fill="#ff0000"/>
<ellipse cx="439.4" cy="126.4" rx="1.75" ry="1.5" fill="#ff0000"/>
<ellipse cx="452.6" cy="115.5" rx="1.75" ry="1.5" fill="#ff0000"/>
<ellipse cx="465.9" cy="106.5" rx="1.75" ry="1.5" fill="#ff0000"/>
<ellipse cx="479.3" cy="96.4" rx="1.75" ry="1.5" fill="#ff0000"/>
<ellipse cx="493.2" cy="86.1" rx="1.75" ry="1.5" fill="#ff0000"/>
<ellipse cx="506.8" cy="75.7" rx="1.75" ry="1.5" fill="#ff0000"/>
<ellipse cx="521" cy="65" rx="1.75" ry="1.5" fill="#ff0000"/>
<ellipse cx="535.6" cy="51.8" rx="1.75" ry="1.5" fill="#ff0000"/>
<path d="M363.7 193.68L535.6 83.97" stroke="#000000" stroke-width="0.95" fill="none"/>
<path d="M361.4 193h4.6M363.7 190.7v4.6M366.9 190.4h4.6M369.2 188.1v4.6M372.2 187h4.6M374.5 184.7v4.6M377.9 184h4.6M380.2 181.7v4.6M389.1 175.6h4.6M391.4 173.3v4.6M400.6 168.8h4.6M402.9 166.5v4.6M412.4 161.3h4.6M414.7 159v4.6M424.5 153.2h4.6M426.8 150.9v4.6M437.1 145.5h4.6M439.4 143.2v4.6M450.3 136.6h4.6M452.6 134.3v4.6M463.6 128h4.6M465.9 125.7v4.6M477 119.4h4.6M479.3 117.1v4.6M490.9 111.5h4.6M493.2 109.2v4.6M504.5 102.6h4.6M506.8 100.3v4.6M518.7 93.5h4.6M521 91.2v4.6M533.3 83.9h4.6M535.6 81.6v4.6" stroke="#000" stroke-width="1.1" fill="none"/>
<rect x="346.5" y="19" width="84.9" height="89.1" fill="#fff" stroke="#999" stroke-width="0.9"/>
<path d="M353.1 26.4h18.4M353.1 24.7v3.4M371.5 24.7v3.4" stroke="#ff2020" stroke-width="0.7" fill="none"/>
<circle cx="362.3" cy="26.4" r="1.6" fill="#ff0000"/>
<text transform="translate(378.7 29.1) scale(0.928 1)" style="font-size:10.5px;font-style:italic;">P</text>
<text transform="translate(385.28 29.1) scale(1.034 1)" style="font-size:10.5px;">(3, 13)</text>
<path d="M353.1 41.35h18.4M353.1 39.65v3.4M371.5 39.65v3.4" stroke="#20ee20" stroke-width="0.7" fill="none"/>
<circle cx="362.3" cy="41.35" r="1.6" fill="#00f000"/>
<text transform="translate(378.7 44.05) scale(0.928 1)" style="font-size:10.5px;font-style:italic;">P</text>
<text transform="translate(385.28 44.05) scale(1.034 1)" style="font-size:10.5px;">(5, 11)</text>
<path d="M353.1 56.3h18.4M353.1 54.6v3.4M371.5 54.6v3.4" stroke="#2020ff" stroke-width="0.7" fill="none"/>
<circle cx="362.3" cy="56.3" r="1.6" fill="#0000ff"/>
<text transform="translate(378.7 59) scale(0.928 1)" style="font-size:10.5px;font-style:italic;">P</text>
<text transform="translate(385.28 59) scale(1.034 1)" style="font-size:10.5px;">(8, 1)</text>
<path d="M353.1 71.25h18.4M353.1 69.55v3.4M371.5 69.55v3.4" stroke="#ffa520" stroke-width="0.7" fill="none"/>
<circle cx="362.3" cy="71.25" r="1.6" fill="#ffa500"/>
<text transform="translate(378.7 73.95) scale(0.928 1)" style="font-size:10.5px;font-style:italic;">P</text>
<text transform="translate(385.28 73.95) scale(1.034 1)" style="font-size:10.5px;">(13, 12)</text>
<path d="M353.1 86.2h18.4M353.1 84.5v3.4M371.5 84.5v3.4" stroke="#9a20e0" stroke-width="0.7" fill="none"/>
<circle cx="362.3" cy="86.2" r="1.6" fill="#8a00d4"/>
<text transform="translate(378.7 88.9) scale(0.928 1)" style="font-size:10.5px;font-style:italic;">P</text>
<text transform="translate(385.28 88.9) scale(1.034 1)" style="font-size:10.5px;">(14, 7)</text>
<path d="M360 101.15h4.6M362.3 98.85v4.6" stroke="#000" stroke-width="1.1" fill="none"/>
<text transform="translate(377.84 102.6) scale(0.756 1)" style="font-size:10.5px;">⟨</text>
<text transform="translate(380.88 102.4) scale(1.021 1)" style="font-size:10.5px;font-style:italic;">U</text>
<text transform="translate(390.5 98.9) scale(1.018 1)" style="font-size:7.2px;font-style:italic;">H</text>
<text transform="translate(389.76 105.6) scale(1.364 1)" style="font-size:7.2px;font-style:italic;">i,j</text>
<text transform="translate(400.51 102.6) scale(0.52 1)" style="font-size:10.5px;">⟩</text>
<text class="al" transform="translate(374.06 244.3) scale(1.087 1)" style="font-size:12px;">conductivity</text>
<text class="al" transform="translate(444.95 244.3) scale(1.091 1)" style="font-size:12px;font-style:italic;">κ</text>
<text class="al" transform="translate(457 245.2) scale(0.5 1)" style="font-size:13.5px;">[</text>
<text class="al" transform="translate(460.59 244.3) scale(0.855 1)" style="font-size:12px;">µS</text>
<text class="al" transform="translate(476.08 244.3) scale(1.036 1)" style="font-size:12px;">cm</text>
<text class="al" transform="translate(492.59 240.2) scale(1.25 1)" style="font-size:8px;">−</text>
<text class="al" transform="translate(499.14 239.8) scale(1.018 1)" style="font-size:8px;">1</text>
<text class="al" transform="translate(505.4 245.2) scale(0.4 1)" style="font-size:13.5px;">]</text>
<text class="al" transform="translate(302.3 205.67) rotate(-90) scale(1.131 1)" style="font-size:12px;">output</text>
<text class="al" transform="translate(302.3 164.4) rotate(-90) scale(1.097 1)" style="font-size:12px;">voltage</text>
<text class="al" transform="translate(302.3 123.09) rotate(-90) scale(1.091 1)" style="font-size:12px;font-style:italic;">U</text>
<text class="al" transform="translate(297.7 110.32) rotate(-90) scale(0.726 1)" style="font-size:8.5px;font-style:italic;">H</text>
<text class="al" transform="translate(304.9 110.95) rotate(-90) scale(0.991 1)" style="font-size:7.5px;font-style:italic;">i,j</text>
<text class="al" transform="translate(302.3 98.1) rotate(-90) scale(1.064 1)" style="font-size:12px;">[ADC counts]</text>
<text transform="translate(286.2 12.6) scale(0.857 1)" style="font-size:13.5px;font-weight:bold;">b</text>
<text transform="translate(293.59 13.7) scale(0.825 1)" style="font-size:15.5px;font-weight:bold;">)</text>
</svg>
</body></html>
